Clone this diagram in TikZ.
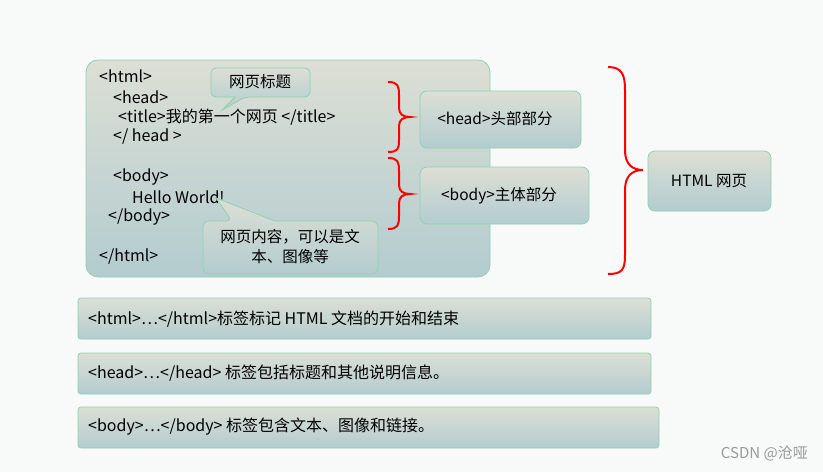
\documentclass[tikz,border=0pt]{standalone}
\usepackage{fontspec}
\setmainfont{Noto Sans CJK SC}
\begin{document}
\begin{tikzpicture}[x=1pt,y=-1pt,
  gbox/.style={draw=grn, top color=topc, bottom color=botc, line width=0.8pt},
  code/.style={anchor=west, inner sep=0pt, font=\fontsize{16}{19}\selectfont},
  lbl/.style={inner sep=0pt, font=\fontsize{15.5}{20}\selectfont},
  brace/.style={draw=red, line width=2pt}]
\definecolor{grn}{HTML}{8ED3AE}
\definecolor{topc}{HTML}{DCDFD5}
\definecolor{botc}{HTML}{B3CCCF}
\definecolor{bg}{HTML}{F8F9F9}
\fill[bg] (0,0) rectangle (823,472);
\useasboundingbox (0,0) rectangle (823,472);
% main box
\path[gbox, rounded corners=12pt] (86,60) rectangle (490,277);
\node[code] (l1) at (99,76) {<html>};
\node[code] (l2) at (113,97) {<head>};
\node[code] (l3) at (118,117) {<title>我的第一个网页 </title>};
\node[code] (l4) at (113,137) {</ head >};
\node[code] (l5) at (113,177) {<body>};
\node[code] (l6) at (132,197) {Hello World!};
\node[code] (l7) at (108,217) {</body>};
\node[code] (l8) at (99,257) {</html>};
% callouts
\path[gbox, rounded corners=5pt] (211,68) -- (310,68) -- (310,97) -- (245,97)
  [sharp corners] -- (222,110) -- (235,97) [rounded corners=5pt] -- (211,97) -- cycle;
\node[lbl] (c1) at (260,82) {网页标题};
\path[gbox, rounded corners=6pt] (203,221) -- (232,221) [sharp corners] -- (216,198) -- (275,221)
  [rounded corners=6pt] -- (378,221) -- (378,274) -- (203,274) -- cycle;
\node[lbl, align=center] (c2) at (290,247) {网页内容，可以是文\\本、图像等};
% braces
\draw[brace] (388,82) .. controls (398,82) and (399,86) .. (399,95) -- (399,108)
  .. controls (399,114) and (403,117) .. (410,117) .. controls (403,117) and (399,120) .. (399,126)
  -- (399,140) .. controls (399,149) and (398,152) .. (388,152);
\draw[brace] (388,158) .. controls (398,158) and (399,162) .. (399,171) -- (399,185)
  .. controls (399,191) and (403,194) .. (410,194) .. controls (403,194) and (399,197) .. (399,203)
  -- (399,216) .. controls (399,225) and (398,229) .. (388,229);
\draw[brace] (608,67) .. controls (622,67) and (625,75) .. (625,90) -- (625,150)
  .. controls (625,164) and (632,170) .. (643,170) .. controls (632,170) and (625,176) .. (625,190)
  -- (625,255) .. controls (625,270) and (622,274) .. (608,274);
% right boxes
\path[gbox, rounded corners=7pt] (420,91) rectangle (581,148);
\node[lbl] (h) at (495,119) {<head>头部部分};
\path[gbox, rounded corners=7pt] (420,167) rectangle (589,224);
\node[lbl] (b) at (499,196) {<body>主体部分};
\path[gbox, rounded corners=7pt] (648,151) rectangle (771,211);
\node[lbl] (w) at (709,181) {HTML 网页};
% bottom bars
\path[gbox, rounded corners=3pt] (78,298) rectangle (651,339);
\node[code] (r1) at (88,319) {<html>…</html>标签标记 HTML 文档的开始和结束};
\path[gbox, rounded corners=3pt] (78,353) rectangle (651,394);
\node[code] (r2) at (88,373) {<head>…</head> 标签包括标题和其他说明信息。};
\path[gbox, rounded corners=3pt] (78,407) rectangle (659,448);
\node[code] (r3) at (88,427) {<body>…</body> 标签包含文本、图像和链接。};
\node[anchor=east, inner sep=0pt, text=gray!80, font=\fontsize{15}{17}\selectfont] (wm) at (808,453) {CSDN @沧哑};
\end{tikzpicture}
\end{document}
